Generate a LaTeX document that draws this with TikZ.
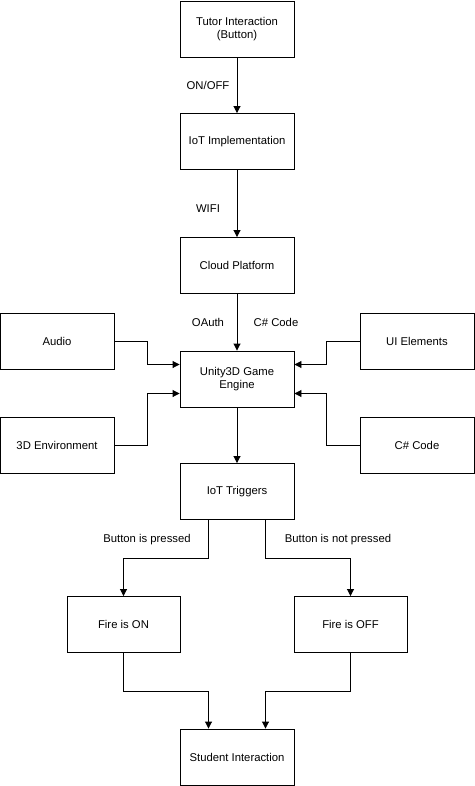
\documentclass[tikz,border=0pt]{standalone}
\usepackage{fontspec}
\setmainfont{Liberation Sans}
\usetikzlibrary{arrows.meta,calc}
\begin{document}
\begin{tikzpicture}[x=1pt,y=-1pt,
  font=\fontsize{11.3}{13.5}\selectfont,
  box/.style={draw=black,line width=0.9pt,minimum width=114pt,minimum height=56pt,inner sep=0pt,align=center,fill=white},
  arr/.style={draw=black,line width=0.9pt,-{Triangle[length=7pt,width=7pt]}},
  lbl/.style={inner sep=0pt,anchor=center}]
\useasboundingbox (0,0) rectangle (474,786);
\node[box] (tutor) at (237,29) {Tutor Interaction\\(Button)};
\node[box] (iot) at (237,141.5) {IoT Implementation};
\node[box] (cloud) at (237,265.5) {Cloud Platform};
\node[box] (unity) at (237,379) {Unity3D Game\\Engine};
\node[box] (audio) at (57,341) {Audio};
\node[box] (ui) at (417,341) {UI Elements};
\node[box] (env) at (57,445) {3D Environment};
\node[box] (cs) at (417,445) {C\# Code};
\node[box] (trig) at (237,491.5) {IoT Triggers};
\node[box,minimum width=113pt] (fon) at (123.5,624.5) {Fire is ON};
\node[box,minimum width=113pt] (foff) at (350.5,624.5) {Fire is OFF};
\node[box] (student) at (237,757) {Student Interaction};

\draw[arr] (tutor) -- (iot);
\draw[arr] (iot) -- (cloud);
\draw[arr] (cloud) -- (unity);
\draw[arr] (audio.east) -- ++(33,0) |- ([yshift=14.5pt]unity.west);
\draw[arr] (env.east) -- ++(33,0) |- ([yshift=-14.5pt]unity.west);
\draw[arr] (ui.west) -- ++(-33,0) |- ([yshift=14.5pt]unity.east);
\draw[arr] (cs.west) -- ++(-33,0) |- ([yshift=-14.5pt]unity.east);
\draw[arr] (unity) -- (trig);
\draw[arr] ([xshift=-28.5pt]trig.south) -- ++(0,38) -| (fon.north);
\draw[arr] ([xshift=28.5pt]trig.south) -- ++(0,38) -| (foff.north);
\draw[arr] (fon.south) -- ++(0,38) -| ([xshift=-28.5pt]student.north);
\draw[arr] (foff.south) -- ++(0,38) -| ([xshift=28.5pt]student.north);

\node[lbl] (l1) at (208,85) {ON/OFF};
\node[lbl] (l2) at (208,209) {WIFI};
\node[lbl] (l3) at (208,322) {OAuth};
\node[lbl] (l4) at (276,322) {C\# Code};
\node[lbl] (l5) at (147,540) {Button is pressed};
\node[lbl] (l6) at (338,540) {Button is not pressed};
\end{tikzpicture}
\end{document}
